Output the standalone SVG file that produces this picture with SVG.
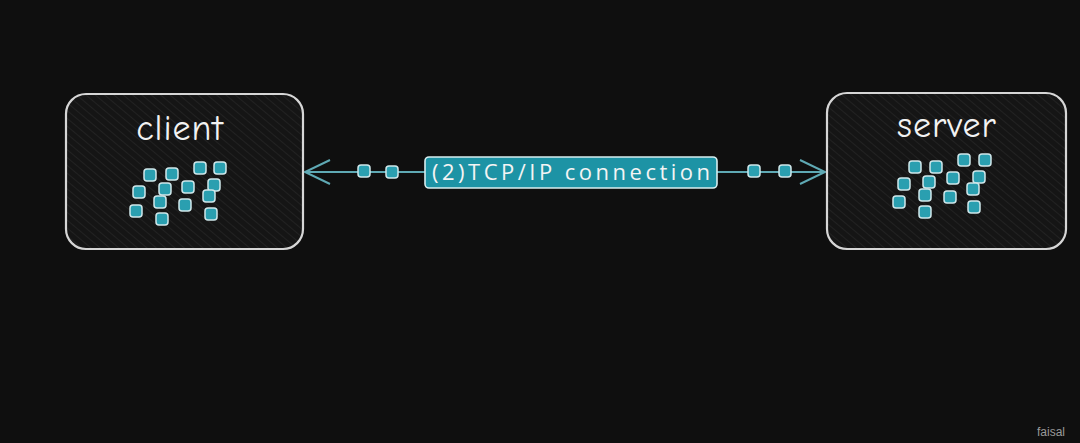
<svg xmlns="http://www.w3.org/2000/svg" width="1080" height="443" viewBox="0 0 1080 443">
<defs>
<pattern id="hatch" width="6" height="6" patternUnits="userSpaceOnUse" patternTransform="rotate(-50)">
<rect width="6" height="6" fill="#151515"/>
<line x1="0" y1="0" x2="0" y2="6" stroke="#262626" stroke-width="1.5"/>
</pattern>
<style>
.box{fill:url(#hatch);stroke:#d6d6d6;stroke-width:2.2}
.title{font-family:"Comic Neue","Open Sans","Liberation Sans",sans-serif;font-size:36px;fill:#f2f2f2;text-anchor:middle;letter-spacing:1px}
.pk{fill:#2a9fb0;stroke:#cfe7ea;stroke-width:1.5}
.line{stroke:#5fa9b4;stroke-width:2;fill:none}
.lbl{font-family:"Open Sans","Liberation Sans",sans-serif;font-size:22px;fill:#f4f4f4;text-anchor:middle}
</style>
<rect id="p" x="-6" y="-6" width="12" height="12" rx="3"/>
</defs>
<rect width="1080" height="443" fill="#0f0f0f"/>
<g id="connectors">
<line class="line" x1="305" y1="172" x2="825" y2="172"/>
<polyline class="line" points="330,160 305,172 330,184"/>
<polyline class="line" points="800,160 825,172 800,184"/>
<g class="pk">
<use href="#p" x="364" y="171"/>
<use href="#p" x="392" y="172"/>
<use href="#p" x="754" y="171"/>
<use href="#p" x="785" y="171"/>
</g>
<g id="label">
<rect x="425" y="157" width="292" height="31" rx="4" fill="#1d93a5" stroke="#d8eef0" stroke-width="1.6"/>
<text class="lbl" x="571" y="180" textLength="278" lengthAdjust="spacing">(2)TCP/IP connection</text>
</g>
</g>
<g id="client">
<rect class="box" x="66" y="94" width="237" height="155" rx="20"/>
<text class="title" x="180" y="140">client</text>
<g class="pk">
<use href="#p" x="150" y="175"/><use href="#p" x="172" y="174"/><use href="#p" x="200" y="168"/><use href="#p" x="220" y="168"/>
<use href="#p" x="139" y="192"/><use href="#p" x="165" y="189"/><use href="#p" x="188" y="187"/><use href="#p" x="214" y="185"/>
<use href="#p" x="160" y="202"/><use href="#p" x="209" y="196"/><use href="#p" x="136" y="211"/><use href="#p" x="185" y="205"/>
<use href="#p" x="162" y="219"/><use href="#p" x="211" y="214"/>
</g>
</g>
<g id="server">
<rect class="box" x="827" y="93" width="239" height="156" rx="20"/>
<text class="title" x="947" y="137">server</text>
<g class="pk">
<use href="#p" x="915" y="167"/><use href="#p" x="936" y="167"/><use href="#p" x="964" y="160"/><use href="#p" x="985" y="160"/>
<use href="#p" x="904" y="184"/><use href="#p" x="929" y="182"/><use href="#p" x="953" y="178"/><use href="#p" x="979" y="177"/>
<use href="#p" x="973" y="189"/><use href="#p" x="925" y="195"/><use href="#p" x="950" y="197"/><use href="#p" x="899" y="202"/>
<use href="#p" x="974" y="207"/><use href="#p" x="925" y="212"/>
</g>
</g>
<text x="1051" y="436" font-family="'Liberation Sans',sans-serif" font-size="12" fill="#9a9a9a" text-anchor="middle">faisal</text>
</svg>
